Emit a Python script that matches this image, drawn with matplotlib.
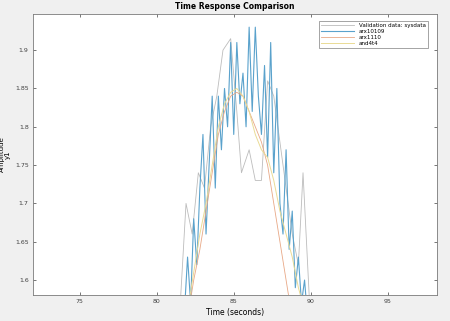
import matplotlib
matplotlib.use("Agg")
import matplotlib.pyplot as plt

# validation data (gray)
t_data = [81.5, 81.9, 82.3, 82.7, 83.1, 83.5, 83.9, 84.3, 84.8, 85.2, 85.5, 86.0,
          86.4, 86.8, 87.2, 87.6, 88.0, 88.4, 88.8, 89.2, 89.5, 89.9]
y_data = [1.56, 1.70, 1.66, 1.74, 1.72, 1.80, 1.84, 1.90, 1.915, 1.82, 1.74, 1.77,
          1.73, 1.73, 1.86, 1.84, 1.78, 1.72, 1.66, 1.62, 1.74, 1.58]

# arx10109 (blue, spiky)
t_blue = [81.8, 82.0, 82.2, 82.4, 82.6, 82.8, 83.0, 83.2, 83.4, 83.6, 83.8, 84.0,
          84.2, 84.4, 84.6, 84.8, 85.0, 85.2, 85.4, 85.6, 85.8, 86.0, 86.2, 86.4,
          86.6, 86.8, 87.0, 87.2, 87.4, 87.6, 87.8, 88.0, 88.2, 88.4, 88.6, 88.8,
          89.0, 89.2, 89.4, 89.6, 89.8]
y_blue = [1.56, 1.63, 1.57, 1.68, 1.62, 1.72, 1.79, 1.66, 1.75, 1.84, 1.72, 1.84,
          1.77, 1.85, 1.80, 1.91, 1.79, 1.91, 1.83, 1.87, 1.80, 1.93, 1.82, 1.93,
          1.84, 1.79, 1.88, 1.76, 1.91, 1.74, 1.85, 1.70, 1.66, 1.77, 1.64, 1.69,
          1.59, 1.63, 1.57, 1.60, 1.55]

# arx1110 (orange)
t_orange = [82.0, 82.4, 82.8, 83.2, 83.6, 84.0, 84.4, 84.8, 85.2, 85.6, 86.0, 86.4,
            86.8, 87.2, 87.6, 88.0, 88.4, 88.8]
y_orange = [1.55, 1.60, 1.64, 1.69, 1.74, 1.79, 1.82, 1.84, 1.845, 1.84, 1.82, 1.80,
            1.78, 1.75, 1.70, 1.65, 1.60, 1.55]

# and4t4 (yellow)
t_yellow = [82.0, 82.4, 82.8, 83.2, 83.6, 84.0, 84.4, 84.8, 85.2, 85.6, 86.0, 86.4,
            86.8, 87.2, 87.6, 88.0, 88.4, 88.8, 89.2, 89.6]
y_yellow = [1.56, 1.61, 1.66, 1.70, 1.75, 1.80, 1.83, 1.845, 1.85, 1.84, 1.82, 1.79,
            1.77, 1.76, 1.73, 1.69, 1.66, 1.63, 1.59, 1.56]

labels = ["Validation data: sysdata", "arx10109", "arx1110", "and4t4"]
xticks = [75, 80, 85, 90, 95]
yticks = [1.6, 1.65, 1.7, 1.75, 1.8, 1.85, 1.9]

fig = plt.figure(figsize=(4.5, 3.21), dpi=100, facecolor="#f0f0f0")
ax = fig.add_axes([0.073, 0.081, 0.898, 0.875])

ax.plot(t_data, y_data, color="#bcbcbc", lw=0.6, label=labels[0])
ax.plot(t_blue, y_blue, color="#5aa2cc", lw=0.8, label=labels[1])
ax.plot(t_orange, y_orange, color="#e8a886", lw=0.6, label=labels[2])
ax.plot(t_yellow, y_yellow, color="#eadb95", lw=0.7, label=labels[3])

ax.set_xlim(71.95, 98.2)
ax.set_ylim(1.5805, 1.947)
ax.set_xticks(xticks)
ax.set_xticklabels([str(v) for v in xticks])
ax.set_yticks(yticks)
ax.set_yticklabels(["1.6", "1.65", "1.7", "1.75", "1.8", "1.85", "1.9"])
ax.tick_params(direction="in", length=2, width=0.5, labelsize=4.5,
               colors="#404040", top=True, right=True, pad=3)
for s in ax.spines.values():
    s.set_color("#7a7a7a")
    s.set_linewidth(0.6)

ax.set_title("Time Response Comparison", fontsize=5.5, fontweight="bold", pad=4)
ax.set_xlabel("Time (seconds)", fontsize=5.5, labelpad=3)
ax.set_ylabel("Amplitude\ny1", fontsize=5, labelpad=1, linespacing=1.0)
ax.yaxis.set_label_coords(-0.055, 0.5)

leg = ax.legend(loc="upper right", fontsize=4, frameon=True, fancybox=False,
                handlelength=6, borderpad=0.4, labelspacing=0.15,
                bbox_to_anchor=(0.985, 0.985))
leg.get_frame().set_edgecolor("#606060")
leg.get_frame().set_linewidth(0.5)

fig.savefig("out.png", dpi=100, facecolor=fig.get_facecolor())
